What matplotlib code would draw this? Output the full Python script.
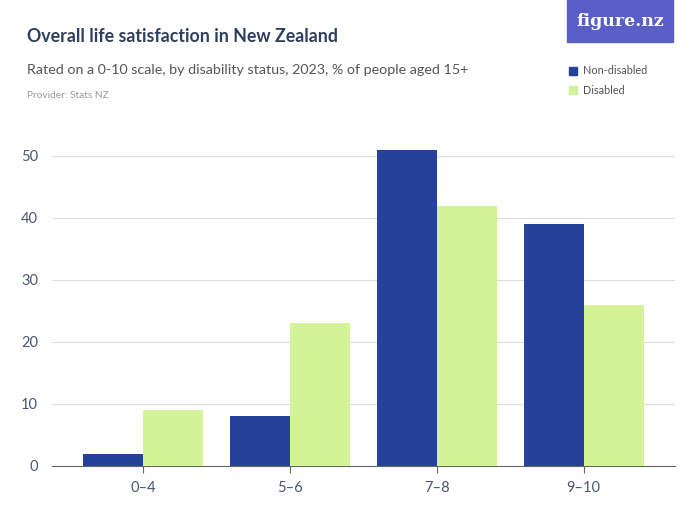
import matplotlib
matplotlib.use("Agg")
import matplotlib.pyplot as plt
import numpy as np

categories = ["0–4", "5–6", "7–8", "9–10"]
non_disabled = [2, 8, 51, 39]
disabled = [9, 23, 42, 26]
yticks = [0, 10, 20, 30, 40, 50]

navy = "#26419A"
green = "#D4F398"
slate = "#2F3F5F"

plt.rcParams["font.family"] = ["Lato", "DejaVu Sans"]

fig = plt.figure(figsize=(7, 5.25), dpi=100)
ax = fig.add_axes([0.0743, 0.1124, 0.8897, 0.6496])

x = np.arange(len(categories))
w = 0.41
ax.bar(x - w / 2, non_disabled, w, color=navy, zorder=3)
ax.bar(x + w / 2, disabled, w, color=green, zorder=3)

ax.set_xlim(-0.62, 3.62)
ax.set_ylim(0, 55)
ax.set_xticks(x)
ax.set_xticklabels(categories)
ax.set_yticks(yticks)
ax.grid(axis="y", color="#DDDDDD", lw=0.8, zorder=0)
for s in ["top", "right", "left"]:
    ax.spines[s].set_visible(False)
ax.spines["bottom"].set_color("#666666")
ax.tick_params(axis="y", length=0, pad=10, labelsize=10.5, labelcolor="#4A5670")
ax.tick_params(axis="x", length=5, color="#666666", pad=6, labelsize=10.5, labelcolor="#4A5670")

fig.text(27 / 700, 1 - 36 / 525, "Overall life satisfaction in New Zealand",
         fontsize=12.8, color=slate, va="center", fontweight="bold")
fig.text(27 / 700, 1 - 70 / 525, "Rated on a 0-10 scale, by disability status, 2023, % of people aged 15+",
         fontsize=10.3, color="#555555", va="center")
fig.text(27 / 700, 1 - 95 / 525, "Provider: Stats NZ", fontsize=7.3, color="#999999", va="center")

# logo box
fig.patches.append(plt.Rectangle((567 / 700, 1 - 42 / 525), 106 / 700, 42 / 525,
                                 transform=fig.transFigure, color="#5A5FC8", zorder=0))
fig.text(620 / 700, 1 - 21 / 525, "figure.nz", fontsize=12.5, color="white",
         ha="center", va="center", fontweight="bold", family="DejaVu Serif")

# legend
for yy, c, lab in [(71, navy, "Non-disabled"), (90, green, "Disabled")]:
    fig.patches.append(plt.Rectangle((569 / 700, 1 - (yy + 4) / 525), 8 / 700, 8 / 525,
                                     transform=fig.transFigure, color=c))
    fig.text(583 / 700, 1 - yy / 525, lab, fontsize=7.8, color="#555555", va="center")

fig.savefig("out.png", dpi=100)
